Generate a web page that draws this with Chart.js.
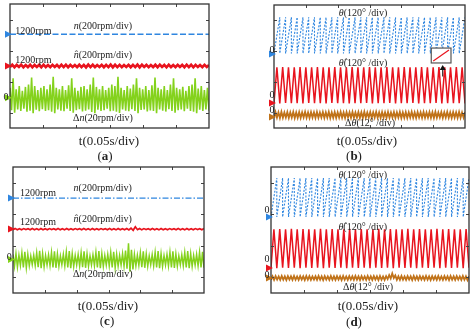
<!DOCTYPE html>
<html>
<head>
<meta charset="utf-8">
<script src="https://cdn.jsdelivr.net/npm/chart.js@4.4.1/dist/chart.umd.min.js"></script>
<style>
body{margin:0;background:#fff;width:474px;height:329px;position:relative;overflow:hidden;font-family:"Liberation Serif",serif;color:#222}
canvas{position:absolute}
.cap{position:absolute;font-size:13px;transform:translate(-50%,-50%);white-space:nowrap;line-height:1}
</style>
</head>
<body>
<canvas id="ca" width="237" height="160" style="left:0;top:0"></canvas>
<canvas id="cb" width="237" height="160" style="left:237px;top:0"></canvas>
<canvas id="cc" width="237" height="169" style="left:0;top:160px"></canvas>
<canvas id="cd" width="237" height="169" style="left:237px;top:160px"></canvas>
<div class="cap" style="left:109px;top:140px">t(0.05s/div)</div>
<div class="cap" style="left:105px;top:155px">(<b>a</b>)</div>
<div class="cap" style="left:367px;top:140px">t(0.05s/div)</div>
<div class="cap" style="left:354px;top:155px">(<b>b</b>)</div>
<div class="cap" style="left:108px;top:305px">t(0.05s/div)</div>
<div class="cap" style="left:107px;top:320px">(<b>c</b>)</div>
<div class="cap" style="left:368px;top:305px">t(0.05s/div)</div>
<div class="cap" style="left:354px;top:321px">(<b>d</b>)</div>
<script>
// time axis in ms (6 div x 50 ms), vertical axis in half-divisions (0..8)
const xTicks = [50, 100, 150, 200, 250];
const yTicks = [1, 3, 5, 7];

// (a) speed n, estimated speed, speed error
const aSpeed = [6.05, 6.05];
const aEst = [3.93,4.08,3.92,4.07,3.94,4.09,3.92,4.06,3.93,4.08,3.91,4.07,3.94,4.08,3.92,4.09,3.93,4.06,3.92,4.08,3.94,4.07,3.91,4.08,3.93,4.09,3.92,4.07,3.94,4.06,3.92,4.08,3.93,4.07,3.91,4.09,3.93,4.08,3.92,4.06,3.94,4.08,3.92,4.07,3.93,4.09,3.91,4.08,3.93,4.07,3.92,4.06,3.94,4.08,3.92,4.07,3.93,4.09,3.91,4.08,3.94,4.07,3.92,4.06,3.93,4.08,3.92,4.09,3.94,4.07,3.91,4.08,3.93,4.06,3.92,4.08,3.94,4.07,3.92,4.09,3.93,4.08,3.91,4.07,3.93,4.06,3.92,4.08,3.94,4.07];
const aErr = [2.6,1.15,3.2,0.98,2.5,1.2,2.7,1.1,2.4,1.25,2.65,1.05,2.8,1.12,3.25,0.95,2.7,1.18,2.45,1.08,2.6,1.22,2.7,1.1,2.5,1.15,2.8,1.05,3.3,0.96,2.6,1.2,2.5,1.12,2.7,1.08,2.45,1.25,2.75,1.1,3.2,0.98,2.6,1.15,2.4,1.22,2.65,1.06,2.7,1.12,2.5,1.2,2.8,1.04,3.25,0.95,2.65,1.18,2.5,1.1,2.7,1.15,2.45,1.24,2.6,1.08,2.8,1.12,2.7,1.05,3.3,0.97,2.6,1.2,2.45,1.12,2.7,1.08,2.55,1.22,2.8,1.1,3.2,0.96,2.6,1.16,2.5,1.2,2.7,1.07,2.45,1.14,2.75,1.1,3.25,0.95,2.6,1.2,2.5,1.12,2.7,1.06,2.45,1.22,2.8,1.1,3.2,0.98,2.6,1.15,2.5,1.2,2.65,1.08,2.4,1.24,2.7,1.1,2.8,1.05,3.2,0.96,2.55,1.18,2.7,1.1,2.45,1.2,2.6,1.12];

// (b) position theta (wrap instants, ms), estimated position, position error
const bWrap = [0,9.1,18.2,27.3,36.4,45.5,54.5,63.6,72.7,81.8,90.9,100,109.1,118.2,127.3,136.4,145.5,154.5,163.6,172.7,181.8,190.9,200,209.1,218.2,227.3,236.4,245.5,254.5,263.6,272.7,281.8,290.9,300];
const bThetaRange = [4.85, 7.2];
const bEst = [1.62,3.95,1.6,3.96,1.63,3.94,1.61,3.95,1.62,3.97,1.6,3.94,1.63,3.95,1.61,3.96,1.62,3.94,1.6,3.95,1.63,3.96,1.61,3.94,1.62,3.95,1.6,3.97,1.62,3.94,1.61,3.95,1.63,3.96,1.6,3.94,1.62,3.95,1.61,3.96,1.63,3.94,1.6,3.95,1.62,3.97,1.61,3.94,1.63,3.95,1.6,3.96,1.62,3.94,1.61,3.95,1.63,3.96,1.6,3.94,1.62,3.95,1.61,3.97,1.62,3.94,1.6];
const bDelta = [0.66,1.04,0.68,1.02,0.65,1.05,0.67,1.01,0.69,1.04,0.66,1.02,0.68,1.05,0.65,1.01,0.67,1.04,0.66,1.02,0.69,1.05,0.67,1.01,0.65,1.04,0.68,1.02,0.66,1.05,0.67,1.01,0.69,1.04,0.66,1.02,0.68,1.05,0.65,1.01,0.67,1.04,0.66,1.02,0.68,1.05,0.67,1.01,0.65,1.04,0.69,1.02,0.66,1.05,0.67,1.01,0.68,1.04,0.66,1.02,0.65,1.05,0.67,1.01,0.69,1.04,0.66,1.02,0.68,1.05,0.67,1.01,0.65,1.04,0.68,1.02,0.66,1.05,0.67,1.01,0.69,1.04,0.66,1.02,0.68,1.05,0.65,1.01,0.67,1.04,0.66,1.02,0.68,1.05,0.67,1.01,0.65,1.04,0.69,1.02,0.66,1.05,0.67,1.01,0.68,1.04,0.66,1.02,0.65,1.05,0.67,1.01,0.69,1.04,0.66,1.02,0.68,1.05,0.67,1.01,0.65,1.04,0.68,1.02,0.66,1.05,0.67,1.01,0.69,1.04];

// (c) speed n, estimated speed, speed error
const cSpeed = [6.03, 6.03];
const cEst = [4.01,4.09,4.02,4.08,4.01,4.09,4.03,4.08,4.01,4.09,4.02,4.08,4.01,4.1,4.02,4.08,4.01,4.09,4.03,4.08,4.01,4.09,4.02,4.08,4.01,4.1,4.02,4.08,4.01,4.09,4.03,4.08,4.01,4.09,4.02,4.08,4.01,4.1,4.02,4.08,4.01,4.09,4.03,4.08,4.01,4.09,4.02,4.08,4.01,4.1,4.02,4.08,4.01,4.09,4.0,4.12,3.98,4.2,4.02,4.1,4.01,4.09,4.03,4.08,4.01,4.09,4.02,4.08,4.01,4.1,4.02,4.08,4.01,4.09,4.03,4.08,4.01,4.09,4.02,4.08,4.01,4.1,4.02,4.08,4.01,4.09,4.03,4.08,4.01,4.09];
const cErr = [2.45,1.7,2.5,1.65,2.4,1.75,2.55,1.62,2.62,1.6,2.45,1.72,2.35,1.8,2.4,1.75,2.55,1.64,2.68,1.58,2.5,1.66,2.38,1.78,2.42,1.74,2.58,1.62,2.65,1.6,2.48,1.7,2.36,1.8,2.45,1.72,2.6,1.62,2.66,1.58,2.5,1.68,2.38,1.78,2.44,1.72,2.56,1.64,2.64,1.6,2.48,1.7,2.36,1.79,2.42,1.74,2.58,1.62,2.67,1.57,2.5,1.68,2.38,1.77,2.45,1.72,2.57,1.63,2.62,1.6,2.46,1.7,2.38,1.78,2.5,1.7,2.7,1.55,3.15,1.35,2.75,1.5,2.45,1.72,2.4,1.76,2.55,1.64,2.64,1.6,2.48,1.7,2.36,1.8,2.44,1.73,2.58,1.62,2.66,1.58,2.5,1.68,2.37,1.78,2.44,1.72,2.58,1.63,2.65,1.59,2.48,1.7,2.36,1.79,2.43,1.74,2.57,1.63,2.66,1.58,2.5,1.68,2.38,1.77,2.45,1.72,2.58,1.62,2.62,1.6];

// (d) position theta, estimated position, position error
const dWrap = [0,8.8,17.6,26.5,35.3,44.1,52.9,61.8,70.6,79.4,88.2,97.1,105.9,114.7,123.5,132.4,141.2,150,158.8,167.6,176.5,185.3,194.1,202.9,211.8,220.6,229.4,238.2,247.1,255.9,264.7,273.5,282.4,291.2,300];
const dThetaRange = [4.83, 7.3];
const dEst = [1.6,4.05,1.58,4.06,1.61,4.04,1.59,4.07,1.6,4.05,1.58,4.06,1.61,4.05,1.59,4.04,1.6,4.07,1.58,4.05,1.61,4.06,1.59,4.04,1.6,4.05,1.58,4.07,1.61,4.05,1.59,4.06,1.6,4.04,1.58,4.05,1.61,4.07,1.59,4.05,1.6,4.06,1.58,4.04,1.61,4.05,1.59,4.07,1.6,4.05,1.58,4.06,1.61,4.04,1.59,4.05,1.6,4.07,1.58,4.05,1.61,4.06,1.59,4.04,1.6,4.05,1.58,4.06,1.6];
const dDelta = [0.84,1.06,0.83,1.07,0.85,1.05,0.83,1.08,0.84,1.06,0.82,1.07,0.85,1.06,0.83,1.08,0.84,1.05,0.83,1.07,0.85,1.06,0.82,1.08,0.84,1.07,0.83,1.05,0.85,1.06,0.83,1.08,0.84,1.06,0.82,1.07,0.85,1.05,0.83,1.08,0.84,1.06,0.83,1.07,0.85,1.06,0.82,1.08,0.84,1.05,0.83,1.07,0.85,1.06,0.83,1.08,0.84,1.06,0.82,1.07,0.85,1.05,0.83,1.08,0.84,1.06,0.83,1.07,0.85,1.06,0.82,1.08,0.84,1.05,0.83,1.07,0.88,1.14,0.92,1.24,0.95,1.12,0.84,1.06,0.83,1.08,0.84,1.05,0.83,1.07,0.85,1.06,0.82,1.08,0.84,1.06,0.83,1.07,0.85,1.05,0.83,1.08,0.84,1.06,0.82,1.07,0.85,1.06,0.83,1.08,0.84,1.05,0.83,1.07,0.85,1.06,0.82,1.08,0.84,1.06,0.83,1.07,0.85,1.05,0.83,1.08,0.84,1.06,0.82,1.07];

const BLUE = "#2f86e0", RED = "#e8141e", GREEN = "#84d21c", ORANGE = "#c0731a";

// evenly sampled record -> points over the 300 ms window
const spread = (vals) => vals.map((v, i) => ({ x: 300 * i / (vals.length - 1), y: v }));

// sawtooth ramps between wrap instants
const ramps = (wraps, range) => {
	const pts = [];
	for (let k = 0; k < wraps.length - 1; k++) {
		pts.push({ x: wraps[k], y: range[0] }, { x: wraps[k + 1], y: range[1] });
	}
	return pts;
};

const drawRuns = (ctx, runs, px, py, align) => {
	const fonts = runs.map((r) => `${r[1] ? "italic " : ""}10px "Liberation Serif"`);
	let w = 0;
	runs.forEach((r, i) => {
		ctx.font = fonts[i];
		w += ctx.measureText(r[0]).width;
	});
	let cx = align === "left" ? px : px - w / 2;
	ctx.textBaseline = "middle";
	ctx.textAlign = "left";
	ctx.fillStyle = "#222";
	runs.forEach((r, i) => {
		ctx.font = fonts[i];
		ctx.fillText(r[0], cx, py);
		cx += ctx.measureText(r[0]).width;
	});
};

const scope = {
	id: "scope",
	afterDraw(chart, args, opts) {
		const { ctx, chartArea: a } = chart;
		const { x, y } = chart.scales;
		ctx.save();
		ctx.strokeStyle = "#444";
		ctx.lineWidth = 1;
		ctx.beginPath();
		xTicks.forEach((t) => {
			const px = Math.round(x.getPixelForValue(t)) + 0.5;
			ctx.moveTo(px, a.top);
			ctx.lineTo(px, a.top + 3);
			ctx.moveTo(px, a.bottom);
			ctx.lineTo(px, a.bottom - 3);
		});
		yTicks.forEach((t) => {
			const py = Math.round(y.getPixelForValue(t)) + 0.5;
			ctx.moveTo(a.left, py);
			ctx.lineTo(a.left + 3, py);
			ctx.moveTo(a.right, py);
			ctx.lineTo(a.right - 3, py);
		});
		ctx.stroke();
		ctx.strokeStyle = "#333";
		ctx.lineWidth = 1.3;
		ctx.strokeRect(a.left, a.top, a.width, a.height);

		(opts.markers || []).forEach(([v, c]) => {
			const py = y.getPixelForValue(v);
			const tip = a.left + 2;
			ctx.fillStyle = c;
			ctx.beginPath();
			ctx.moveTo(tip, py);
			ctx.lineTo(tip - 7, py - 3.5);
			ctx.lineTo(tip - 7, py + 3.5);
			ctx.closePath();
			ctx.fill();
		});

		if (opts.inset) {
			const [x0, x1, y0, y1] = opts.inset.box;
			const l = x.getPixelForValue(x0), r = x.getPixelForValue(x1);
			const t = y.getPixelForValue(y1), b = y.getPixelForValue(y0);
			ctx.fillStyle = "#fff";
			ctx.fillRect(l, t, r - l, b - t);
			ctx.strokeStyle = RED;
			ctx.lineWidth = 1.2;
			ctx.beginPath();
			ctx.moveTo(l + 2, b - 2);
			ctx.lineTo(r - 2, t + 2);
			ctx.stroke();
			ctx.strokeStyle = "#555";
			ctx.strokeRect(l, t, r - l, b - t);
			const [ax, ay0, ay1] = opts.inset.arrow;
			const apx = x.getPixelForValue(ax), p0 = y.getPixelForValue(ay0), p1 = y.getPixelForValue(ay1);
			ctx.strokeStyle = "#111";
			ctx.lineWidth = 1;
			ctx.beginPath();
			ctx.moveTo(apx, p0);
			ctx.lineTo(apx, p1 + 3);
			ctx.stroke();
			ctx.fillStyle = "#111";
			ctx.beginPath();
			ctx.moveTo(apx, p1);
			ctx.lineTo(apx - 3, p1 + 5);
			ctx.lineTo(apx + 3, p1 + 5);
			ctx.closePath();
			ctx.fill();
		}

		(opts.labels || []).forEach((l) => {
			drawRuns(ctx, l.runs, x.getPixelForValue(l.x), y.getPixelForValue(l.y), l.align);
		});
		ctx.restore();
	},
};

const makeScope = (id, padding, datasets, extra) =>
	new Chart(document.getElementById(id), {
		type: "line",
		data: { datasets },
		options: {
			responsive: false,
			animation: false,
			layout: { padding },
			elements: { point: { radius: 0 }, line: { tension: 0 } },
			scales: {
				x: { type: "linear", min: 0, max: 300, display: false },
				y: { min: 0, max: 8, display: false },
			},
			plugins: { legend: { display: false }, tooltip: { enabled: false }, scope: extra },
		},
		plugins: [scope],
	});

const trace = (data, color, width, dash) => ({
	data,
	borderColor: color,
	borderWidth: width,
	borderDash: dash || [],
	fill: false,
});

const nLabel = [["n", 1], ["(200rpm/div)", 0]];
const nHatLabel = [["n\u0302", 1], ["(200rpm/div)", 0]];
const dnLabel = [["\u0394", 0], ["n", 1], ["(20rpm/div)", 0]];
const thLabel = [["\u03b8", 1], ["(120\u00b0 /div)", 0]];
const thHatLabel = [["\u03b8\u0302", 1], ["(120\u00b0 /div)", 0]];
const dthLabel = [["\u0394", 0], ["\u03b8", 1], ["(12\u00b0 /div)", 0]];

makeScope("ca", { left: 10, top: 4, right: 28, bottom: 32 }, [
	trace(spread(aSpeed), BLUE, 1.6, [6, 2.5]),
	trace(spread(aEst), RED, 2.6),
	trace(spread(aErr), GREEN, 1.6),
], {
	markers: [[6.05, BLUE], [4.0, RED], [1.95, GREEN]],
	labels: [
		{ runs: nLabel, x: 140, y: 6.58 },
		{ runs: [["1200rpm", 0]], x: 8, y: 6.25, align: "left" },
		{ runs: nHatLabel, x: 140, y: 4.71 },
		{ runs: [["1200rpm", 0]], x: 8, y: 4.39, align: "left" },
		{ runs: [["0", 0]], x: -6, y: 2.0 },
		{ runs: dnLabel, x: 140, y: 0.65 },
	],
});

makeScope("cb", { left: 37, top: 5, right: 9, bottom: 32 }, [
	trace(ramps(bWrap, bThetaRange), BLUE, 1.1, [2, 1.5]),
	trace(spread(bEst), RED, 1.5),
	trace(spread(bDelta), ORANGE, 1.8),
], {
	markers: [[4.81, BLUE], [1.63, RED], [0.72, ORANGE]],
	inset: { box: [247, 278, 4.23, 5.2], arrow: [265, 3.35, 4.1] },
	labels: [
		{ runs: thLabel, x: 140, y: 7.48 },
		{ runs: thHatLabel, x: 140, y: 4.23 },
		{ runs: dthLabel, x: 151, y: 0.33 },
		{ runs: [["0", 0]], x: -3, y: 5.07 },
		{ runs: [["0", 0]], x: -3, y: 2.15 },
		{ runs: [["0", 0]], x: -3, y: 1.17 },
	],
});

makeScope("cc", { left: 13, top: 7, right: 33, bottom: 36 }, [
	trace(spread(cSpeed), BLUE, 1.3, [6, 2, 1.5, 2]),
	trace(spread(cEst), RED, 1.7),
	trace(spread(cErr), GREEN, 1.5),
], {
	markers: [[6.03, BLUE], [4.06, RED], [2.12, GREEN]],
	labels: [
		{ runs: nLabel, x: 141, y: 6.67 },
		{ runs: [["1200rpm", 0]], x: 11, y: 6.35, align: "left" },
		{ runs: nHatLabel, x: 141, y: 4.7 },
		{ runs: [["1200rpm", 0]], x: 11, y: 4.5, align: "left" },
		{ runs: [["0", 0]], x: -6, y: 2.29 },
		{ runs: dnLabel, x: 141, y: 1.21 },
	],
});

makeScope("cd", { left: 34, top: 7, right: 5, bottom: 36 }, [
	trace(ramps(dWrap, dThetaRange), BLUE, 1.1, [2, 1.5]),
	trace(spread(dEst), RED, 1.5),
	trace(spread(dDelta), ORANGE, 1.8),
], {
	markers: [[4.83, BLUE], [1.59, RED], [0.95, ORANGE]],
	labels: [
		{ runs: thLabel, x: 139, y: 7.49 },
		{ runs: thHatLabel, x: 139, y: 4.19 },
		{ runs: dthLabel, x: 147, y: 0.38 },
		{ runs: [["0", 0]], x: -6, y: 5.27 },
		{ runs: [["0", 0]], x: -6, y: 2.16 },
		{ runs: [["0", 0]], x: -6, y: 1.14 },
	],
});
</script>
</body>
</html>
